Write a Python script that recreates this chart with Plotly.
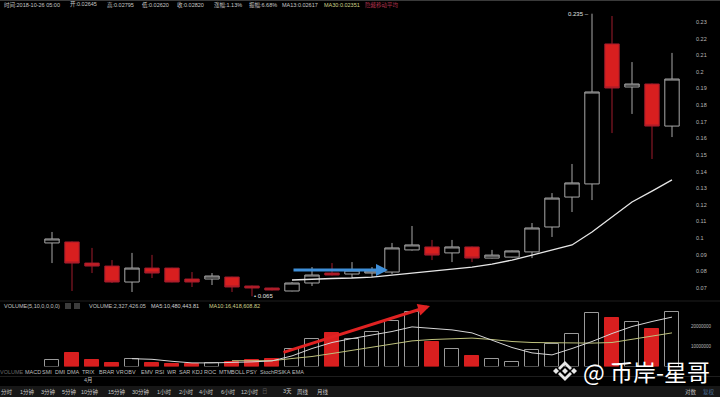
import plotly.graph_objects as go

W, H = 720, 397

# ---------------- data ----------------
idx = list(range(32))
opens = [0.0971, 0.0977, 0.0850, 0.0832, 0.0736, 0.0820, 0.0820, 0.0754, 0.0754, 0.0766,
         0.0712, 0.0700, 0.0682, 0.0730, 0.0790, 0.0784, 0.0790, 0.0796, 0.0929, 0.0947,
         0.0911, 0.0947, 0.0880, 0.0886, 0.0917, 0.1067, 0.1247, 0.1326, 0.2168, 0.1909,
         0.1927, 0.1674]
highs = [0.1037, 0.0980, 0.0941, 0.0868, 0.0911, 0.0899, 0.0822, 0.0796, 0.0790, 0.0768,
         0.0715, 0.0702, 0.0735, 0.0826, 0.0850, 0.0856, 0.0826, 0.0971, 0.1073, 0.0989,
         0.0989, 0.0950, 0.0929, 0.0925, 0.1091, 0.1271, 0.1446, 0.2350, 0.2336, 0.2059,
         0.1930, 0.2114]
lows = [0.0850, 0.0682, 0.0790, 0.0730, 0.0676, 0.0760, 0.0734, 0.0706, 0.0718, 0.0676,
        0.0650, 0.0685, 0.0680, 0.0712, 0.0775, 0.0760, 0.0766, 0.0784, 0.0925, 0.0868,
        0.0856, 0.0856, 0.0878, 0.0884, 0.0880, 0.1007, 0.1157, 0.1229, 0.1632, 0.1747,
        0.1476, 0.1608]
closes = [0.0995, 0.0850, 0.0832, 0.0736, 0.0820, 0.0790, 0.0736, 0.0736, 0.0772, 0.0706,
          0.0700, 0.0688, 0.0730, 0.0778, 0.0778, 0.0808, 0.0802, 0.0941, 0.0959, 0.0898,
          0.0947, 0.0880, 0.0898, 0.0923, 0.1061, 0.1241, 0.1332, 0.1879, 0.1903, 0.1927,
          0.1674, 0.1957]
volumes = [3.5e6, 6.6e6, 3.5e6, 2.0e6, 4.0e6, 2.0e6, 1.5e6, 1.5e6, 2.0e6, 2.5e6,
           3.5e6, 4.0e6, 9.0e6, 14.0e6, 16.6e6, 13.6e6, 17.1e6, 22.6e6, 27.4e6, 12.1e6,
           8.6e6, 5.1e6, 4.0e6, 2.5e6, 8.5e6, 11.5e6, 16.5e6, 27.0e6, 24.5e6, 22.5e6,
           19.0e6, 27.5e6]

ma13_start = 12
ma13 = [0.0748, 0.0754, 0.0757, 0.0760, 0.0766, 0.0778, 0.0790, 0.0802, 0.0814, 0.0826,
        0.0844, 0.0868, 0.0898, 0.0929, 0.0959, 0.1037, 0.1127, 0.1217, 0.1283, 0.1350]

vma5_start = 4
vol_ma5 = [3.9e6, 3.6e6, 2.6e6, 1.8e6, 1.8e6, 1.9e6, 2.3e6, 2.8e6, 5.3e6, 9.0e6,
           12.0e6, 14.0e6, 15.8e6, 17.5e6, 19.8e6, 19.2e6, 18.3e6, 16.8e6, 13.3e6, 9.5e6,
           6.8e6, 5.8e6, 9.0e6, 12.5e6, 16.5e6, 20.0e6, 22.5e6, 24.7e6]
vma10_start = 9
vol_ma10 = [2.9e6, 3.0e6, 2.9e6, 4.0e6, 5.0e6, 6.5e6, 8.0e6, 9.8e6, 11.3e6, 12.8e6,
            13.5e6, 14.0e6, 14.2e6, 13.5e6, 12.5e6, 12.0e6, 11.8e6, 11.7e6, 11.7e6, 12.0e6,
            13.5e6, 15.0e6, 16.8e6]

price_ticks = [0.07, 0.08, 0.09, 0.10, 0.11, 0.12, 0.13, 0.14, 0.15, 0.16, 0.17, 0.18,
               0.19, 0.20, 0.21, 0.22, 0.23]
vol_ticks = [10e6, 20e6]
vol_tick_text = ["10000000", "20000000"]

header_items = [
    (2, "时间:2018-10-26 05:00", "#c8c8c8"),
    (68, "开:0.02645", "#c8c8c8"),
    (105, "高:0.02795", "#c8c8c8"),
    (140, "低:0.02620", "#c8c8c8"),
    (175, "收:0.02820", "#c8c8c8"),
    (212, "涨幅:1.13%", "#c8c8c8"),
    (247, "振幅:6.68%", "#c8c8c8"),
    (280, "MA13:0.02617", "#c8c8c8"),
    (322, "MA30:0.02351", "#d4d48a"),
    (363, "隐藏移动平均", "#b0304c"),
]
vol_header_items = [
    (2, "VOLUME(5,10,0,0,0,0)", "#c0c0c0"),
    (87, "VOLUME:2,327,426.05", "#c0c0c0"),
    (149, "MA5:10,480,443.81", "#d0d0d0"),
    (207, "MA10:16,418,608.82", "#cfd08a"),
]
indicators = ["VOLUME", "MACD", "SMI", "DMI", "DMA", "TRIX", "BRAR", "VR", "OBV", "EMV",
              "RSI", "WR", "SAR", "KDJ", "ROC", "MTM", "BOLL", "PSY", "StochRSI", "KA", "EMA"]
indicator_x = [12, 33, 47, 60, 73, 88, 106, 120, 130, 147, 160, 171, 184, 197, 210, 225,
               238, 252, 272, 287, 298]
tabs = ["分时", "1分钟", "3分钟", "5分钟", "10分钟", "15分钟", "30分钟", "1小时", "2小时",
        "4小时", "6小时", "12小时", "日", "3天", "周线", "月线"]
tab_x = [7, 27, 48, 69, 90, 117, 141, 164, 186, 206, 228, 250, 265, 287, 303, 323]

FONT = "Liberation Sans, Noto Sans CJK SC, sans-serif"


def X(px):
    return px / W


def Y(py):
    return 1 - py / H


# pixel mapping of plot areas
plot_right = 690
x_per_px = 1 / 20.0
x0_px = 52
x_range = [(0 - x0_px) * x_per_px, (plot_right - x0_px) * x_per_px]

price_top_px, price_bot_px = 8, 300
p_per_px = 0.01 / 16.625
price_range = [0.07 - (price_bot_px - 288) * p_per_px, 0.07 + (288 - price_top_px) * p_per_px]

vol_top_px, vol_bot_px = 302, 366.5
vol_range = [0, (vol_bot_px - vol_top_px) * 0.5e6]

fig = go.Figure()

fig.add_trace(go.Candlestick(
    x=idx, open=opens, high=highs, low=lows, close=closes,
    increasing=dict(line=dict(color="#a8a8a8", width=1), fillcolor="#000000"),
    decreasing=dict(line=dict(color="#a01c2c", width=1), fillcolor="#d81f1f"),
    whiskerwidth=0, xaxis="x", yaxis="y", showlegend=False,
))

fig.add_trace(go.Scatter(
    x=idx[ma13_start:], y=ma13, mode="lines",
    line=dict(color="#e6e6e6", width=1.3), xaxis="x", yaxis="y", showlegend=False,
))

up = [c >= o for o, c in zip(opens, closes)]
fig.add_trace(go.Bar(
    x=idx, y=volumes, width=0.72,
    marker=dict(color=["#000000" if u else "#d81f1f" for u in up],
                line=dict(color=["#9a9a9a" if u else "#d81f1f" for u in up], width=1)),
    xaxis="x2", yaxis="y2", showlegend=False,
))
fig.add_trace(go.Scatter(
    x=idx[vma10_start:], y=vol_ma10, mode="lines", line=dict(color="#bfc27e", width=1),
    xaxis="x2", yaxis="y2", showlegend=False,
))
fig.add_trace(go.Scatter(
    x=idx[vma5_start:], y=vol_ma5, mode="lines", line=dict(color="#d6d6d6", width=1),
    xaxis="x2", yaxis="y2", showlegend=False,
))

ann = []
# high / low markers
hi_i = max(idx, key=lambda i: highs[i])
lo_i = min(idx, key=lambda i: lows[i])
ann.append(dict(x=hi_i, y=highs[hi_i], xref="x", yref="y", text="%.3f –" % highs[hi_i],
                showarrow=False, xanchor="right", yanchor="middle", xshift=-1,
                font=dict(family=FONT, size=6, color="#e0e0e0")))
ann.append(dict(x=lo_i, y=lows[lo_i], xref="x", yref="y", text="• %.3f" % lows[lo_i],
                showarrow=False, xanchor="left", yanchor="middle", xshift=0,
                font=dict(family=FONT, size=6, color="#e0e0e0")))

# drawn arrows
ann.append(dict(x=16.8, y=0.0808, ax=12.0, ay=0.0808, xref="x", yref="y", axref="x", ayref="y",
                showarrow=True, arrowhead=2, arrowsize=0.8, arrowwidth=3, arrowcolor="#3f8fd8", text=""))
ann.append(dict(x=18.9, y=30.2e6, ax=11.5, ay=6.8e6, xref="x2", yref="y2", axref="x2", ayref="y2",
                showarrow=True, arrowhead=2, arrowsize=0.8, arrowwidth=3, arrowcolor="#e02222", text=""))

for xp, t, c in header_items:
    ann.append(dict(x=X(xp), y=Y(5), xref="paper", yref="paper", text=t, showarrow=False,
                    xanchor="left", yanchor="middle", font=dict(family=FONT, size=5.5, color=c)))
for xp, t, c in vol_header_items:
    ann.append(dict(x=X(xp), y=Y(306), xref="paper", yref="paper", text=t, showarrow=False,
                    xanchor="left", yanchor="middle", font=dict(family=FONT, size=5.5, color=c)))
for k, (t, xp) in enumerate(zip(indicators, indicator_x)):
    ann.append(dict(x=X(xp), y=Y(372), xref="paper", yref="paper", text=t, showarrow=False,
                    xanchor="center", yanchor="middle",
                    font=dict(family=FONT, size=5.5, color="#6a6a6a" if k == 0 else "#bdbdbd")))
ann.append(dict(x=X(88), y=Y(380), xref="paper", yref="paper", text="4月", showarrow=False,
                xanchor="center", yanchor="middle", font=dict(family=FONT, size=5.5, color="#bdbdbd")))
for t, xp in zip(tabs, tab_x):
    ann.append(dict(x=X(xp), y=Y(391.5), xref="paper", yref="paper", text=t, showarrow=False,
                    xanchor="center", yanchor="middle",
                    font=dict(family=FONT, size=5.5, color="#5a5a5a" if t == "日" else "#c8c8c8")))
ann.append(dict(x=X(691), y=Y(391.5), xref="paper", yref="paper", text="对数", showarrow=False,
                xanchor="center", yanchor="middle", font=dict(family=FONT, size=5.5, color="#bdbdbd")))
ann.append(dict(x=X(709), y=Y(391.5), xref="paper", yref="paper", text="复权", showarrow=False,
                xanchor="center", yanchor="middle", font=dict(family=FONT, size=5.5, color="#4a6f9a")))

# watermark
ann.append(dict(x=X(581), y=Y(371), xref="paper", yref="paper", text="@ 币岸-星哥", showarrow=False,
                xanchor="left", yanchor="middle",
                font=dict(family="Noto Sans CJK SC, sans-serif", size=23, color="#ffffff")))


def path(pts):
    s = "M " + " L ".join("%.5f,%.5f" % (X(a), Y(b)) for a, b in pts) + " Z"
    return s


shapes = []
# background bars / separators
shapes.append(dict(type="rect", xref="paper", yref="paper", x0=0, x1=1, y0=0, y1=Y(386),
                   fillcolor="#171717", line=dict(width=0), layer="below"))
shapes.append(dict(type="line", xref="paper", yref="paper", x0=0, x1=1, y0=Y(0.5), y1=Y(0.5),
                   line=dict(color="#3a3a3a", width=1)))
shapes.append(dict(type="line", xref="paper", yref="paper", x0=0, x1=1, y0=Y(301), y1=Y(301),
                   line=dict(color="#1e1e1e", width=1)))
shapes.append(dict(type="line", xref="paper", yref="paper", x0=0, x1=1, y0=Y(376.5), y1=Y(376.5),
                   line=dict(color="#1e1e1e", width=1)))
# two small settings squares in the volume header
for sx in (65, 74):
    shapes.append(dict(type="rect", xref="paper", yref="paper", x0=X(sx), x1=X(sx + 6),
                       y0=Y(309), y1=Y(303), fillcolor="#3c3c3c", line=dict(width=0)))
# binance-like logo
cx, cy = 565, 371
logo = [
    [(cx - 3, cy), (cx, cy - 3), (cx + 3, cy), (cx, cy + 3)],
    [(cx - 12, cy), (cx - 9, cy - 3), (cx - 6, cy), (cx - 9, cy + 3)],
    [(cx + 6, cy), (cx + 9, cy - 3), (cx + 12, cy), (cx + 9, cy + 3)],
    [(cx - 7, cy - 3), (cx, cy - 10), (cx + 7, cy - 3), (cx + 5, cy - 1), (cx, cy - 6), (cx - 5, cy - 1)],
    [(cx - 7, cy + 3), (cx, cy + 10), (cx + 7, cy + 3), (cx + 5, cy + 1), (cx, cy + 6), (cx - 5, cy + 1)],
]
for pts in logo:
    shapes.append(dict(type="path", xref="paper", yref="paper", path=path(pts),
                       fillcolor="#e8e8e8", line=dict(width=0)))

fig.update_layout(
    width=W, height=H,
    margin=dict(l=0, r=0, t=0, b=0),
    paper_bgcolor="#000000", plot_bgcolor="#000000",
    showlegend=False, bargap=0, boxgap=0.28, boxgroupgap=0,
    xaxis=dict(domain=[0, X(plot_right)], range=x_range, visible=False,
               rangeslider=dict(visible=False), anchor="y"),
    xaxis2=dict(domain=[0, X(plot_right)], range=x_range, visible=False, anchor="y2",
                matches="x"),
    yaxis=dict(domain=[Y(price_bot_px), Y(price_top_px)], range=price_range, side="right",
               anchor="x", tickvals=price_ticks, ticks="", showgrid=False, zeroline=False,
               showline=False, ticklabelstandoff=5,
               tickfont=dict(family=FONT, size=5.5, color="#b8b8b8")),
    yaxis2=dict(domain=[Y(vol_bot_px), Y(vol_top_px)], range=vol_range, side="right",
                anchor="x2", tickvals=vol_ticks, ticktext=vol_tick_text, ticks="",
                showgrid=False, zeroline=False, showline=False, ticklabelstandoff=0,
                tickfont=dict(family=FONT, size=4.5, color="#b8b8b8")),
    annotations=ann, shapes=shapes,
)

fig.write_html("out.html", config={"displayModeBar": False},
               post_script="document.body.style.margin='0';document.body.style.background='#000';")
